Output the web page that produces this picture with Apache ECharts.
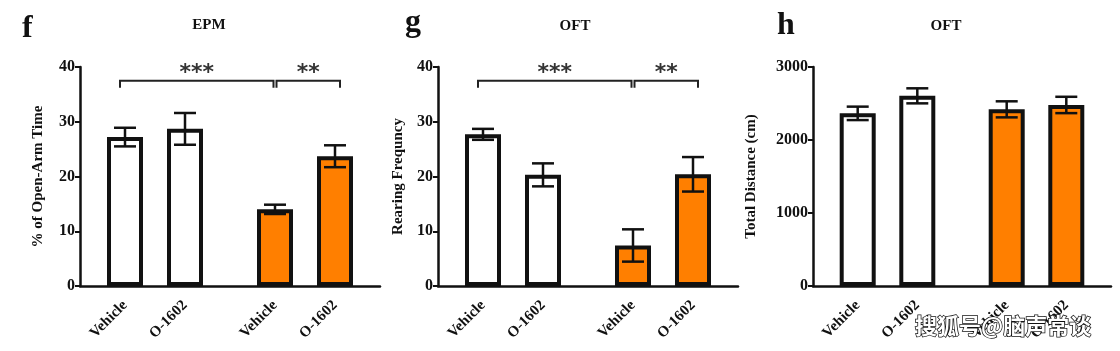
<!DOCTYPE html>
<html>
<head>
<meta charset="utf-8">
<script src="https://cdn.jsdelivr.net/npm/echarts@6/dist/echarts.min.js"></script>
<style>
  html, body { margin: 0; padding: 0; background: #fff; }
  #main { width: 1120px; height: 351px; }
</style>
</head>
<body>
<div id="main"></div>
<script>
// groups along each x axis
var groups = ['Vehicle', 'O-1602', 'Vehicle', 'O-1602'];

// panel f: EPM, % of open-arm time
var epmMean = [27.2, 28.7, 14.0, 23.7];
var epmSem = [1.7, 2.9, 0.85, 2.0];
// panel g: OFT, rearing frequency
var rearMean = [27.7, 20.3, 7.4, 20.4];
var rearSem = [1.0, 2.1, 2.95, 3.15];
// panel h: OFT, total distance (cm)
var distMean = [2365, 2605, 2420, 2480];
var distSem = [92, 103, 110, 112];

// significance brackets: [from group, to group, label]
var epmSig = [[0, 2, '***'], [2, 3, '**']];
var rearSig = [[0, 2, '***'], [2, 3, '**']];
var sigLevel = 37.5;

// y ticks
var pctTicks = { min: 0, max: 40, interval: 10 };
var distTicks = { min: 0, max: 3000, interval: 1000 };

// layout: the x axis is cut into 10 slots, bars sit in these
var SLOT_COUNT = 10;
var barSlot = [1, 3, 6, 8];
var fillColor = ['#ffffff', '#ffffff', '#ff7f00', '#ff7f00'];
var serif = '"Liberation Serif", "Times New Roman", serif';

var slotLabels = [];
for (var i = 0; i < SLOT_COUNT; i++) slotLabels.push('');
groups.forEach(function (g, k) { slotLabels[barSlot[k]] = g; });

var myChart = echarts.init(document.getElementById('main'));

function barData(mean) {
    var out = [];
    for (var i = 0; i < SLOT_COUNT; i++) out.push('-');
    mean.forEach(function (v, k) {
        out[barSlot[k]] = { value: v, itemStyle: { color: fillColor[k] } };
    });
    return out;
}

function errData(mean, sem) {
    return mean.map(function (v, k) {
        return [barSlot[k], v - sem[k], v + sem[k]];
    });
}

function sigData(sig) {
    return sig.map(function (s) {
        return [barSlot[s[0]], barSlot[s[1]], sigLevel];
    });
}

function renderErr(params, api) {
    var hi = api.coord([api.value(0), api.value(2)]);
    var lo = api.coord([api.value(0), api.value(1)]);
    var hw = 11;
    var st = { stroke: '#111', lineWidth: 2.5 };
    return {
        type: 'group',
        children: [
            { type: 'line', shape: { x1: hi[0], y1: hi[1], x2: lo[0], y2: lo[1] }, style: st },
            { type: 'line', shape: { x1: hi[0] - hw, y1: hi[1], x2: hi[0] + hw, y2: hi[1] }, style: st },
            { type: 'line', shape: { x1: lo[0] - hw, y1: lo[1], x2: lo[0] + hw, y2: lo[1] }, style: st }
        ]
    };
}

function makeSigRender(sig) {
    return function (params, api) {
        var a = api.coord([api.value(0), api.value(2)]);
        var b = api.coord([api.value(1), api.value(2)]);
        var first = params.dataIndex === 0;
        var x0 = a[0] + (first ? -5 : 1.5);
        var x1 = b[0] + (first ? -1.5 : 5);
        var y = a[1];
        var st = { stroke: '#222', lineWidth: 2 };
        return {
            type: 'group',
            children: [
                { type: 'polyline', shape: { points: [[x0, y + 7], [x0, y], [x1, y], [x1, y + 7]] }, style: Object.assign({ fill: null }, st) },
                { type: 'text', x: (x0 + x1) / 2, y: y - 7,
                  style: { text: sig[params.dataIndex][2], fill: '#333', font: 'bold 22px "DejaVu Sans"', align: 'center', verticalAlign: 'middle' } }
            ]
        };
    };
}

var grids = [
    { left: 80, top: 67, width: 300, height: 219 },
    { left: 438, top: 67, width: 300, height: 219 },
    { left: 813, top: 67, width: 298, height: 219 }
];

var yNames = ['% of Open-Arm Time', 'Rearing Frequncy', 'Total Distance (cm)'];
var yGaps = [34, 32, 54];
var yTicks = [pctTicks, pctTicks, distTicks];

var option = {
    animation: false,
    grid: grids,
    xAxis: grids.map(function (g, i) {
        return {
            type: 'category',
            gridIndex: i,
            data: slotLabels,
            axisLine: { lineStyle: { color: '#111', width: 2.5 } },
            axisTick: { show: false },
            axisLabel: {
                interval: 0, rotate: 45, margin: 17,
                color: '#111', fontFamily: serif, fontWeight: 'bold', fontSize: 15
            },
            splitLine: { show: false }
        };
    }),
    yAxis: grids.map(function (g, i) {
        return {
            type: 'value',
            gridIndex: i,
            min: yTicks[i].min, max: yTicks[i].max, interval: yTicks[i].interval,
            name: yNames[i],
            nameLocation: 'middle',
            nameGap: yGaps[i],
            nameTextStyle: { color: '#111', fontFamily: serif, fontWeight: 'bold', fontSize: 15 },
            axisLine: { show: true, lineStyle: { color: '#111', width: 2.5 } },
            axisTick: { show: true, length: 5, lineStyle: { color: '#111', width: 2 } },
            axisLabel: { color: '#111', fontFamily: serif, fontWeight: 'bold', fontSize: 16, margin: 5,
                         formatter: function (v) { return String(v); } },
            splitLine: { show: false }
        };
    }),
    series: [
        { type: 'bar', xAxisIndex: 0, yAxisIndex: 0, barWidth: 36, data: barData(epmMean),
          itemStyle: { borderColor: '#111', borderWidth: 4 } },
        { type: 'bar', xAxisIndex: 1, yAxisIndex: 1, barWidth: 36, data: barData(rearMean),
          itemStyle: { borderColor: '#111', borderWidth: 4 } },
        { type: 'bar', xAxisIndex: 2, yAxisIndex: 2, barWidth: 36, data: barData(distMean),
          itemStyle: { borderColor: '#111', borderWidth: 4 } },
        { type: 'custom', xAxisIndex: 0, yAxisIndex: 0, z: 5, renderItem: renderErr, data: errData(epmMean, epmSem) },
        { type: 'custom', xAxisIndex: 1, yAxisIndex: 1, z: 5, renderItem: renderErr, data: errData(rearMean, rearSem) },
        { type: 'custom', xAxisIndex: 2, yAxisIndex: 2, z: 5, renderItem: renderErr, data: errData(distMean, distSem) },
        { type: 'custom', xAxisIndex: 0, yAxisIndex: 0, z: 5, renderItem: makeSigRender(epmSig), data: sigData(epmSig) },
        { type: 'custom', xAxisIndex: 1, yAxisIndex: 1, z: 5, renderItem: makeSigRender(rearSig), data: sigData(rearSig) }
    ],
    graphic: [
        { type: 'text', x: 22, y: 29, style: { text: 'f', font: 'bold 32px ' + serif, fill: '#111', verticalAlign: 'middle' } },
        { type: 'text', x: 405, y: 23, style: { text: 'g', font: 'bold 32px ' + serif, fill: '#111', verticalAlign: 'middle' } },
        { type: 'text', x: 777, y: 26, style: { text: 'h', font: 'bold 32px ' + serif, fill: '#111', verticalAlign: 'middle' } },
        { type: 'text', x: 209, y: 25, style: { text: 'EPM', font: 'bold 15px ' + serif, fill: '#111', align: 'center', verticalAlign: 'middle' } },
        { type: 'text', x: 575, y: 26, style: { text: 'OFT', font: 'bold 15px ' + serif, fill: '#111', align: 'center', verticalAlign: 'middle' } },
        { type: 'text', x: 946, y: 26, style: { text: 'OFT', font: 'bold 15px ' + serif, fill: '#111', align: 'center', verticalAlign: 'middle' } },
        { type: 'text', x: 915, y: 326, z: 100,
          style: { text: '搜狐号@脑声常谈', font: 'bold 22px "Noto Sans CJK SC"', fill: '#fff', stroke: '#111', lineWidth: 1.5, verticalAlign: 'middle' } }
    ]
};

myChart.setOption(option);
</script>
</body>
</html>
